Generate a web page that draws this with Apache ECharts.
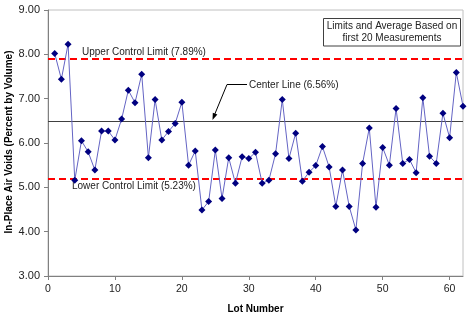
<!DOCTYPE html>
<html>
<head>
<meta charset="utf-8">
<script src="https://cdn.jsdelivr.net/npm/echarts@6/dist/echarts.min.js"></script>
<style>
  html, body { margin: 0; padding: 0; background: #fff; }
  #chart { width: 474px; height: 318px; }
</style>
</head>
<body>
<div id="chart"></div>
<script>
// air voids per lot
var lots = [];
for (var i = 1; i <= 62; i++) lots.push(i);
var airVoids = [
  8.02, 7.44, 8.23, 5.16, 6.05, 5.80, 5.39, 6.27, 6.27, 6.07,
  6.54, 7.19, 6.91, 7.55, 5.67, 6.98, 6.07, 6.26, 6.44, 6.92,
  5.50, 5.82, 4.49, 4.68, 5.84, 4.75, 5.67, 5.09, 5.69, 5.65,
  5.79, 5.09, 5.16, 5.76, 6.98, 5.65, 6.22, 5.14, 5.34, 5.49,
  5.92, 5.46, 4.57, 5.39, 4.57, 4.04, 5.54, 6.34, 4.55, 5.90,
  5.50, 6.78, 5.54, 5.63, 5.33, 7.02, 5.70, 5.54, 6.67, 6.12,
  7.59, 6.83
];
// control lines (drawn where they sit in the picture)
var ucl = 7.90;
var centerLine = 6.50;
var lcl = 5.20;

var font = 'Arial, "Liberation Sans", sans-serif';

var points = lots.map(function (x, i) { return [x, airVoids[i]]; });

var option = {
  animation: false,
  grid: {
    left: 48, right: 11, top: 10, bottom: 42,
    outerBoundsMode: 'none',
    containLabel: false,
    show: true, borderColor: '#c0c0c0', borderWidth: 1
  },
  xAxis: {
    type: 'value', min: 0, max: 62, interval: 10,
    name: 'Lot Number', nameLocation: 'middle', nameGap: 28,
    nameTextStyle: { fontFamily: font, fontSize: 10, fontWeight: 'bold', color: '#000' },
    axisLine: { show: true, lineStyle: { color: '#808080', width: 1 } },
    axisTick: { show: true, inside: false, length: 4, lineStyle: { color: '#808080' } },
    axisLabel: { fontFamily: font, fontSize: 10.5, color: '#222', margin: 8, showMaxLabel: false },
    splitLine: { show: false }
  },
  yAxis: {
    type: 'value', min: 3, max: 9, interval: 1,
    axisLine: { show: true, lineStyle: { color: '#808080', width: 1 } },
    axisTick: { show: true, inside: false, length: 4, lineStyle: { color: '#808080' } },
    axisLabel: {
      fontFamily: font, fontSize: 11, color: '#222', margin: 8,
      formatter: function (v) { return v.toFixed(2); }
    },
    splitLine: { show: false }
  },
  series: [
    {
      type: 'line',
      data: points,
      symbol: 'diamond',
      symbolSize: 7,
      lineStyle: { color: '#6464c4', width: 1 },
      itemStyle: { color: '#000080' },
      z: 5,
      markLine: {
        silent: true,
        symbol: 'none',
        label: { show: false },
        data: [
          { yAxis: ucl, lineStyle: { color: '#ff0000', width: 2, type: [7, 4] } },
          { yAxis: centerLine, lineStyle: { color: '#404040', width: 1.2, type: 'solid' } },
          { yAxis: lcl, lineStyle: { color: '#ff0000', width: 2, type: [7, 4] } }
        ]
      }
    }
  ],
  graphic: [
    {
      type: 'text', x: 9, y: 142, rotation: Math.PI / 2,
      style: {
        text: 'In-Place Air Voids (Percent by Volume)',
        font: 'bold 10px ' + font, fill: '#000', align: 'center', verticalAlign: 'middle'
      }
    },
    {
      type: 'text', x: 82, y: 47,
      style: { text: 'Upper Control Limit (7.89%)', font: '10px ' + font, fill: '#222' }
    },
    {
      type: 'text', x: 72, y: 181,
      style: { text: 'Lower Control Limit (5.23%)', font: '10px ' + font, fill: '#222' }
    },
    {
      type: 'text', x: 249, y: 80,
      style: { text: 'Center Line (6.56%)', font: '10px ' + font, fill: '#222' }
    },
    {
      type: 'polyline',
      shape: { points: [[247, 84.5], [227, 84.5], [214, 116]] },
      style: { stroke: '#000', lineWidth: 1, fill: null }
    },
    {
      type: 'polygon',
      shape: { points: [[212.5, 120], [217.4, 114.6], [212.8, 112.8]] },
      style: { fill: '#000' }
    },
    {
      type: 'rect',
      shape: { x: 323.5, y: 18.5, width: 137, height: 27.5 },
      style: { fill: '#fff', stroke: '#404040', lineWidth: 1 },
      z: 10
    },
    {
      type: 'text', x: 392, y: 19.5, z: 11,
      style: {
        text: 'Limits and Average Based on\nfirst 20 Measurements',
        font: '10px ' + font, fill: '#222', align: 'center', lineHeight: 12.5
      }
    }
  ]
};

var chart = echarts.init(document.getElementById('chart'));
chart.setOption(option);
</script>
</body>
</html>
